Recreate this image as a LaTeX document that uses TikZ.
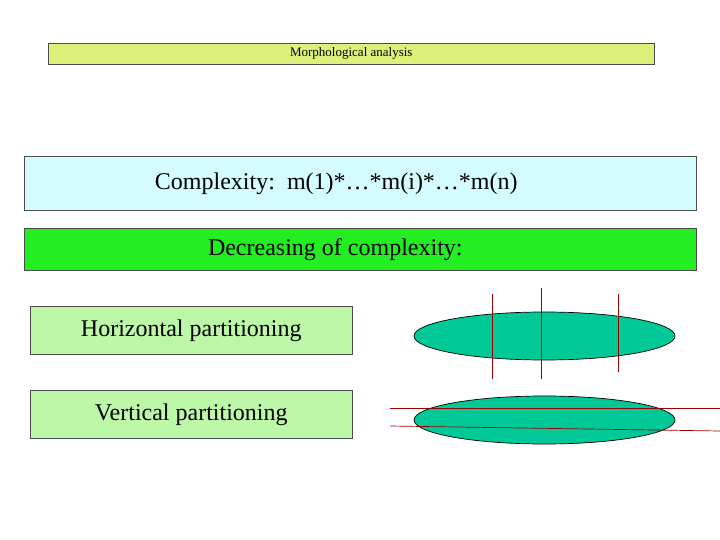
\documentclass[tikz,border=0pt]{standalone}
\usepackage{fontspec}
\setmainfont{Liberation Serif}
\begin{document}
\begin{tikzpicture}[x=1pt,y=-1pt,
  box/.style={draw=black!70,line width=0.6pt,anchor=north west,inner sep=0pt},
  cut/.style={draw=red!60!black,line width=0.7pt},
  ell/.style={draw=black,fill=teal!50!green!80!cyan,line width=0.7pt}]
\useasboundingbox (0,0) rectangle (720,540);
\definecolor{ygreen}{HTML}{DDF07A}
\definecolor{lcyan}{HTML}{D4FCFF}
\definecolor{bgreen}{HTML}{22EE22}
\definecolor{lgreen}{HTML}{BDF7A8}
\definecolor{teal2}{HTML}{00C896}
\node[box,fill=ygreen,minimum width=606pt,minimum height=21pt] (title) at (48,43) {};
\node at (title.center) {\fontsize{13}{13}\selectfont Morphological analysis};
\node[box,fill=lcyan,minimum width=672pt,minimum height=54pt] (cx) at (24,156) {};
\node at ([xshift=-24pt]cx.center) {\fontsize{24}{24}\selectfont Complexity:\ \ m(1)*\ldots*m(i)*\ldots*m(n)};
\node[box,fill=bgreen,minimum width=672pt,minimum height=42pt] (dec) at (24,228) {};
\node at ([xshift=-25pt]dec.center) {\fontsize{24}{24}\selectfont Decreasing of complexity:};
\node[box,fill=lgreen,minimum width=322pt,minimum height=48pt] (hp) at (30,306) {};
\node at (hp.center) {\fontsize{24}{24}\selectfont Horizontal partitioning};
\node[box,fill=lgreen,minimum width=322pt,minimum height=48pt] (vp) at (30,390) {};
\node at (vp.center) {\fontsize{24}{24}\selectfont Vertical partitioning};
\draw[ell,fill=teal2] (544.5,336) ellipse [x radius=130.5, y radius=24];
\draw[ell,fill=teal2] (544.5,420) ellipse [x radius=130.5, y radius=24];
\coordinate (a1) at (492,294); \coordinate (a2) at (492,379);
\coordinate (b1) at (541,288); \coordinate (b2) at (541,379);
\coordinate (c1) at (618,294); \coordinate (c2) at (618,372);
\draw[cut] (a1) -- (a2); \draw[cut] (b1) -- (b2); \draw[cut] (c1) -- (c2);
\coordinate (h1) at (390,408); \coordinate (h2) at (720,408);
\coordinate (k1) at (390,426); \coordinate (k2) at (720,431);
\draw[cut] (h1) -- (h2); \draw[cut] (k1) -- (k2);
\end{tikzpicture}
\end{document}
